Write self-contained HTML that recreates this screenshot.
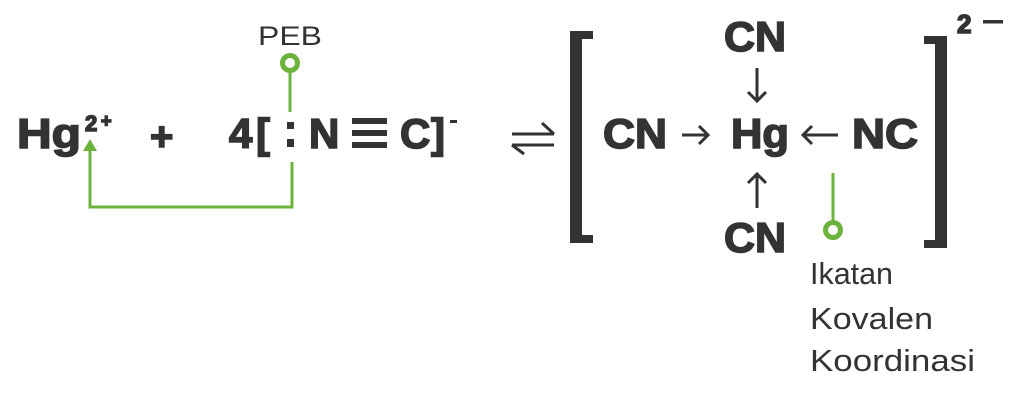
<!DOCTYPE html>
<html><head><meta charset="utf-8"><style>
html,body{margin:0;padding:0;background:#fff;width:1023px;height:407px;overflow:hidden}
svg{display:block}
.b{font-family:"Liberation Sans",sans-serif;font-weight:bold;fill:#333;stroke:#333;stroke-width:1.6}
.r{font-family:"Liberation Sans",sans-serif;fill:#333}
</style></head><body>
<svg width="1023" height="407" viewBox="0 0 1023 407" xmlns="http://www.w3.org/2000/svg">
<!-- left side -->
<text class="b" x="17" y="148" font-size="42" textLength="64" lengthAdjust="spacingAndGlyphs">Hg</text>
<text class="b" x="85" y="131" font-size="22">2</text>
<text class="b" x="101" y="127" font-size="18">+</text>
<text class="b" x="150" y="150" font-size="40">+</text>
<text class="b" x="229" y="148" font-size="42">4</text>
<text class="b" x="256" y="148" font-size="42">[</text>
<rect x="287" y="122" width="7" height="7" fill="#333"/>
<rect x="287" y="139" width="7" height="8" fill="#333"/>
<text class="b" x="309" y="148" font-size="42">N</text>
<rect x="352" y="118" width="35" height="6" fill="#333"/>
<rect x="352" y="130" width="35" height="6" fill="#333"/>
<rect x="352" y="142" width="35" height="6" fill="#333"/>
<text class="b" x="400" y="148" font-size="42">C</text>
<text class="b" x="431" y="148" font-size="42">]</text>
<rect x="450" y="120" width="7" height="3" fill="#333"/>
<text class="r" x="290" y="45" font-size="27" text-anchor="middle" textLength="64" lengthAdjust="spacingAndGlyphs">PEB</text>
<!-- green PEB -->
<line x1="290" y1="70" x2="290" y2="112" stroke="#6cb33e" stroke-width="3"/>
<circle cx="290" cy="63" r="7.5" fill="#fff" stroke="#6cb33e" stroke-width="5"/>
<polyline points="292,162 292,207 90,207 90,148" fill="none" stroke="#6cb33e" stroke-width="3"/>
<polygon points="90,139 83,151 97,151" fill="#6cb33e"/>
<!-- equilibrium -->
<g stroke="#333" stroke-width="3" fill="none">
<line x1="512" y1="134" x2="554" y2="134"/><line x1="542" y1="123" x2="554" y2="134"/>
<line x1="512" y1="145" x2="554" y2="145"/><line x1="512" y1="145" x2="524" y2="154"/>
</g>
<!-- brackets -->
<path d="M570 31 H593 V39 H582 V235 H593 V243 H570 Z" fill="#333"/>
<path d="M947 36 H924 V44 H935 V240 H924 V248 H947 Z" fill="#333"/>
<text class="b" x="957" y="33" font-size="26">2</text>
<rect x="983" y="20" width="20" height="3.5" fill="#333"/>
<!-- complex -->
<text class="b" x="603" y="148" font-size="42" textLength="64" lengthAdjust="spacingAndGlyphs">CN</text>
<text class="b" x="731" y="148" font-size="42" textLength="58" lengthAdjust="spacingAndGlyphs">Hg</text>
<text class="b" x="852" y="148" font-size="42" textLength="66" lengthAdjust="spacingAndGlyphs">NC</text>
<text class="b" x="724" y="51" font-size="42" textLength="62" lengthAdjust="spacingAndGlyphs">CN</text>
<text class="b" x="724" y="252" font-size="42" textLength="62" lengthAdjust="spacingAndGlyphs">CN</text>
<g stroke="#333" stroke-width="3" fill="none">
<line x1="682" y1="135" x2="708" y2="135"/><polyline points="699,126 708,135 699,144"/>
<line x1="803" y1="135" x2="838" y2="135"/><polyline points="812,126 803,135 812,144"/>
<line x1="757" y1="68" x2="757" y2="101"/><polyline points="748,92 757,101 766,92"/>
<line x1="757" y1="174" x2="757" y2="208"/><polyline points="748,183 757,174 766,183"/>
</g>
<line x1="833" y1="173" x2="833" y2="222" stroke="#6cb33e" stroke-width="3"/>
<circle cx="833" cy="230" r="7.5" fill="#fff" stroke="#6cb33e" stroke-width="5"/>
<text class="r" x="810" y="284" font-size="31" textLength="83" lengthAdjust="spacingAndGlyphs">Ikatan</text>
<text class="r" x="810" y="329" font-size="31" textLength="123" lengthAdjust="spacingAndGlyphs">Kovalen</text>
<text class="r" x="810" y="371" font-size="31" textLength="165" lengthAdjust="spacingAndGlyphs">Koordinasi</text>
</svg>
</body></html>
